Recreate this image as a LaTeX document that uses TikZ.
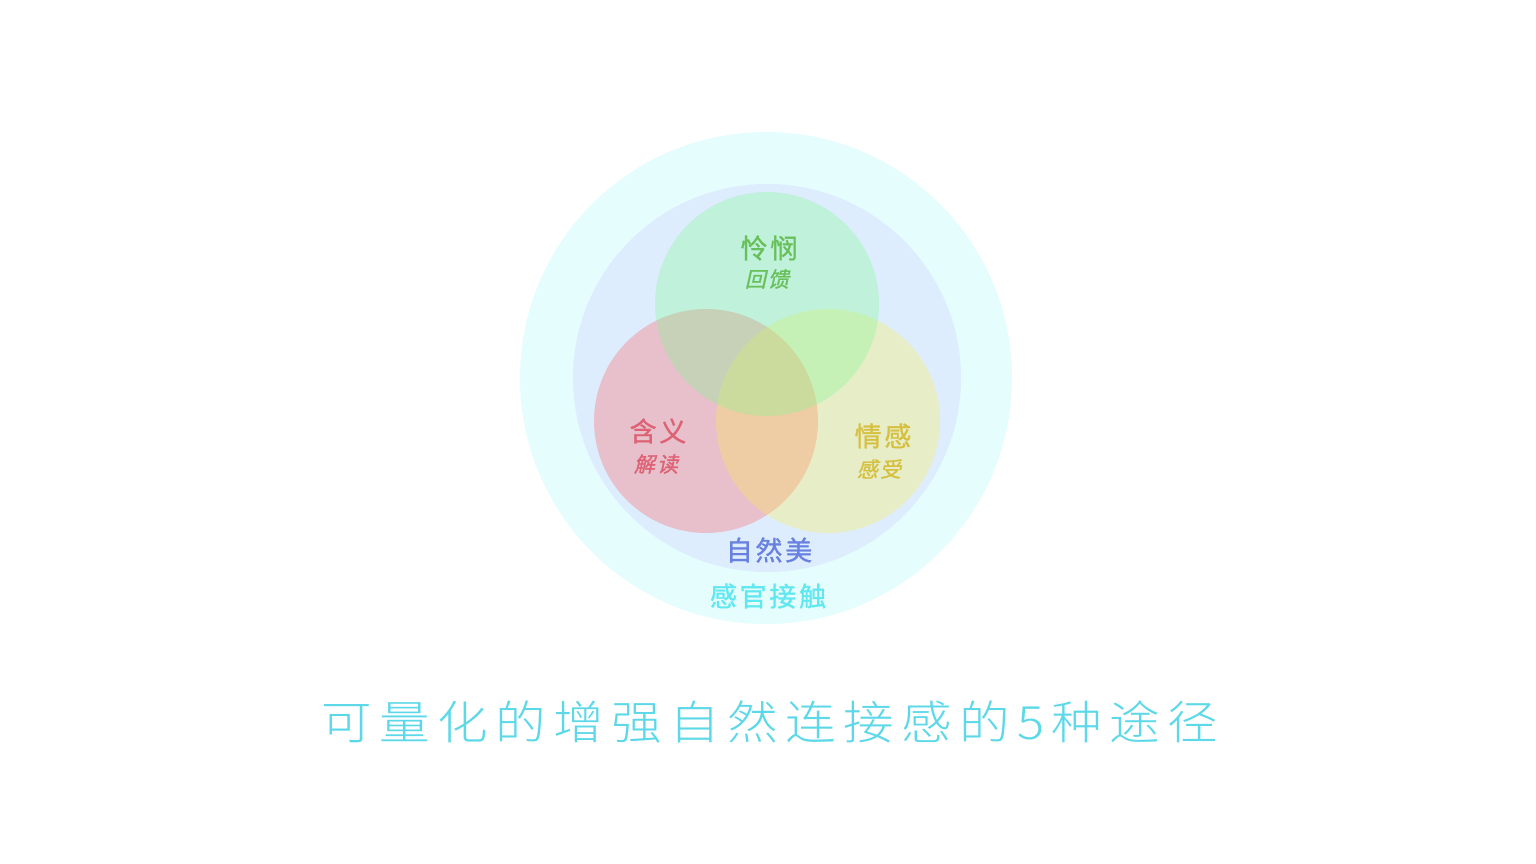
\documentclass[tikz,border=0pt]{standalone}
\usepackage{fontspec}
\newfontfamily\cjkit[FakeSlant=0.22,FakeBold=1.2,LetterSpace=10]{Noto Sans CJK SC}
\newfontfamily\cjkbold[FakeBold=1.0,LetterSpace=10]{Noto Sans CJK SC}
\newfontfamily\cjklight[FakeStretch=1.1,LetterSpace=16]{Noto Sans CJK SC Light}
\definecolor{outerc}{RGB}{229,253,253}
\definecolor{midc}{RGB}{221,237,253}
\definecolor{redc}{RGB}{255,90,90}
\definecolor{greenc}{RGB}{124,251,143}
\definecolor{yellowc}{RGB}{255,238,76}
\definecolor{redt}{RGB}{222,98,116}
\definecolor{greent}{RGB}{104,192,90}
\definecolor{yellowt}{RGB}{214,192,64}
\definecolor{bluet}{RGB}{104,128,224}
\definecolor{cyant}{RGB}{96,232,240}
\definecolor{titlec}{RGB}{92,216,232}
\tikzset{
  venn/.style={circle, minimum size=224pt, inner sep=0pt, fill opacity=0.3},
  main/.style={font=\cjkbold\fontsize{27}{30}\selectfont, inner sep=0pt},
  sub/.style={font=\cjkit\fontsize{21}{24}\selectfont, inner sep=0pt}
}
\begin{document}
\begin{tikzpicture}[x=1pt,y=-1pt]
\useasboundingbox (0,0) rectangle (1536,864);
\fill[white] (0,0) rectangle (1536,864);
\node[circle, fill=outerc, minimum size=492pt, inner sep=0pt] (outer) at (766,378) {};
\node[circle, fill=midc, minimum size=388pt, inner sep=0pt] (mid) at (767,378) {};
\node[venn, fill=redc] (red) at (706,421) {};
\node[venn, fill=yellowc] (yellow) at (828,421) {};
\node[venn, fill=greenc] (green) at (767,304) {};
\node[main, text=greent] (lg) at (769,248) {怜悯};
\node[sub, text=greent] (sg) at (767,279) {回馈};
\node[main, text=redt] (lr) at (658,431) {含义};
\node[sub, text=redt] (sr) at (656,464) {解读};
\node[main, text=yellowt] (ly) at (883,436) {情感};
\node[sub, text=yellowt] (sy) at (879,469) {感受};
\node[main, text=bluet] (lb) at (769,550) {自然美};
\node[main, text=cyant] (lc) at (768,596) {感官接触};
\node[font=\cjklight\fontsize{46}{50}\selectfont, text=titlec, inner sep=0pt] (title) at (770,722) {可量化的增强自然连接感的5种途径};
\end{tikzpicture}
\end{document}
